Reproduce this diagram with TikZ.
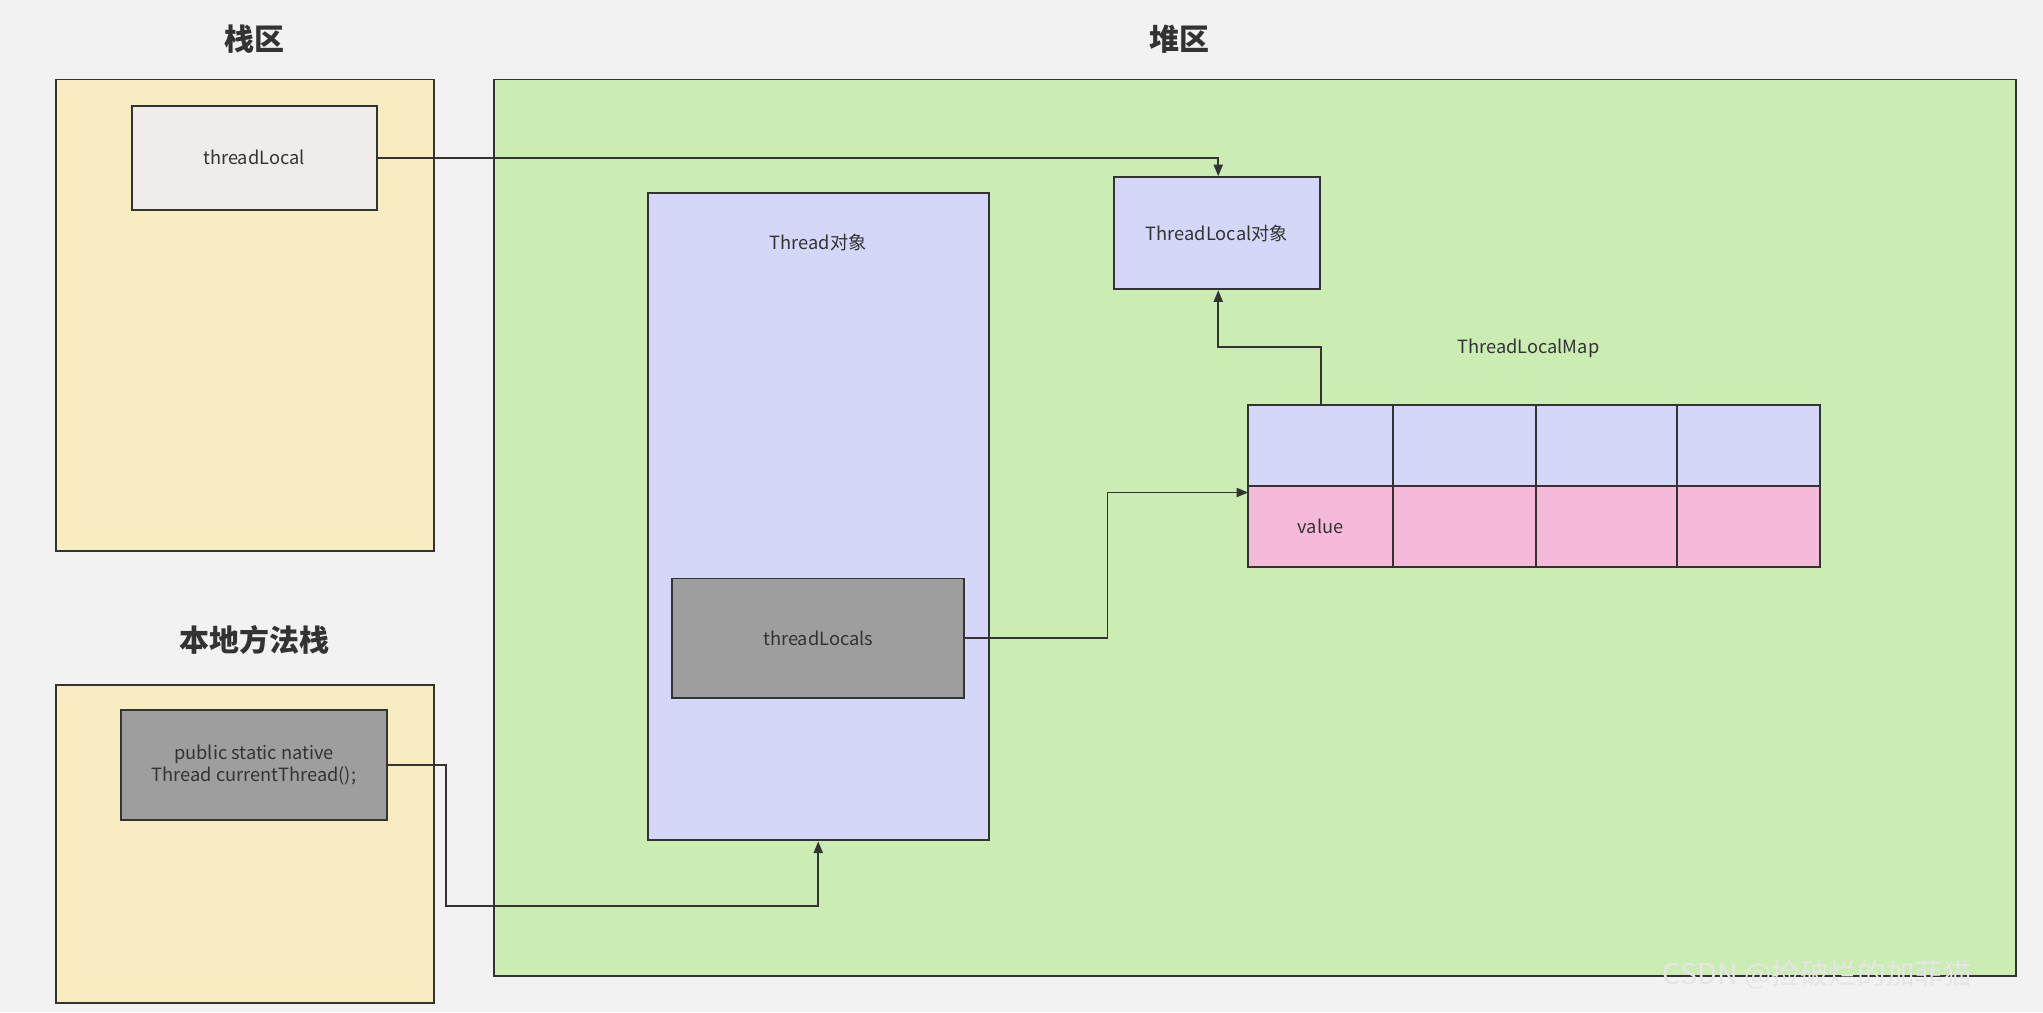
\documentclass[tikz,border=0pt]{standalone}
\usepackage{fontspec}
\setmainfont{Noto Sans CJK SC}
\usetikzlibrary{arrows.meta}
\definecolor{bg}{HTML}{F2F2F2}
\definecolor{stk}{HTML}{F7EDC0}
\definecolor{heap}{HTML}{CBEDB4}
\definecolor{blu}{HTML}{D4D7F8}
\definecolor{gry}{HTML}{9E9E9E}
\definecolor{pnk}{HTML}{F5BAD9}
\definecolor{wht}{HTML}{F0ECEA}
\definecolor{ln}{HTML}{333333}
\begin{document}
\begin{tikzpicture}[x=1pt,y=-1pt,
  box/.style={draw=ln,line width=1.5pt},
  lbl/.style={font=\fontsize{14}{17}\selectfont,text=ln,align=center},
  ttl/.style={font=\fontsize{23}{27}\selectfont\bfseries,text=ln},
  arr/.style={draw=ln,line width=1.5pt,-{Triangle[length=9pt,width=7pt]}}]
\useasboundingbox[fill=bg] (0,0) rectangle (1568,777);
\node[ttl] (t1) at (195,30) {栈区};
\node[ttl] (t2) at (195,491) {本地方法栈};
\node[ttl] (t3) at (905,30) {堆区};
\draw[box,fill=stk] (43,61) rectangle (333,423);
\draw[box,fill=stk] (43,526) rectangle (333,770);
\draw[box,fill=heap] (379,61) rectangle (1547,749);
\node[box,fill=wht,minimum width=188pt,minimum height=80pt,lbl] (tl) at (195,121) {threadLocal};
\node[box,fill=gry,minimum width=204pt,minimum height=84pt,lbl] (ps) at (195,587) {public static native\\Thread currentThread();};
\node[box,fill=blu,minimum width=262pt,minimum height=497pt] (th) at (628,396.5) {};
\node[lbl] (thl) at (628,186) {Thread对象};
\node[box,fill=gry,minimum width=224pt,minimum height=92pt,lbl] (tls) at (628,490) {threadLocals};
\node[box,fill=blu,minimum width=158pt,minimum height=86pt,lbl] (tlo) at (934,179) {ThreadLocal对象};
\node[lbl] (tlm) at (1173,267) {ThreadLocalMap};
\foreach \a/\b [count=\i] in {958/1069,1069/1179,1179/1287,1287/1397}{
  \node[box,fill=blu,minimum width={\b-\a},minimum height=62pt,inner sep=0] (k\i) at ({(\a+\b)/2},342) {};
  \node[box,fill=pnk,minimum width={\b-\a},minimum height=62pt,inner sep=0] (v\i) at ({(\a+\b)/2},404) {};
}
\node[lbl] (val) at (v1) {value};
\coordinate (k1w) at (958,378);
\draw[arr] (tl.east) -- (935,121) -- (tlo.north -| 935,0);
\draw[arr] (tls.east) -- (850,490) -- (850,378) -- (k1w);
\draw[arr] (k1.north -| 1014,0) -- (1014,266) -- (935,266) -- (tlo.south -| 935,0);
\draw[arr] (ps.east) -- (342,587) -- (342,695) -- (628,695) -- (th.south);
\node[font=\fontsize{22}{26}\selectfont,text=white!80!gray] (wm) at (1395,748) {CSDN @捡破烂的加菲猫};
\end{tikzpicture}
\end{document}
